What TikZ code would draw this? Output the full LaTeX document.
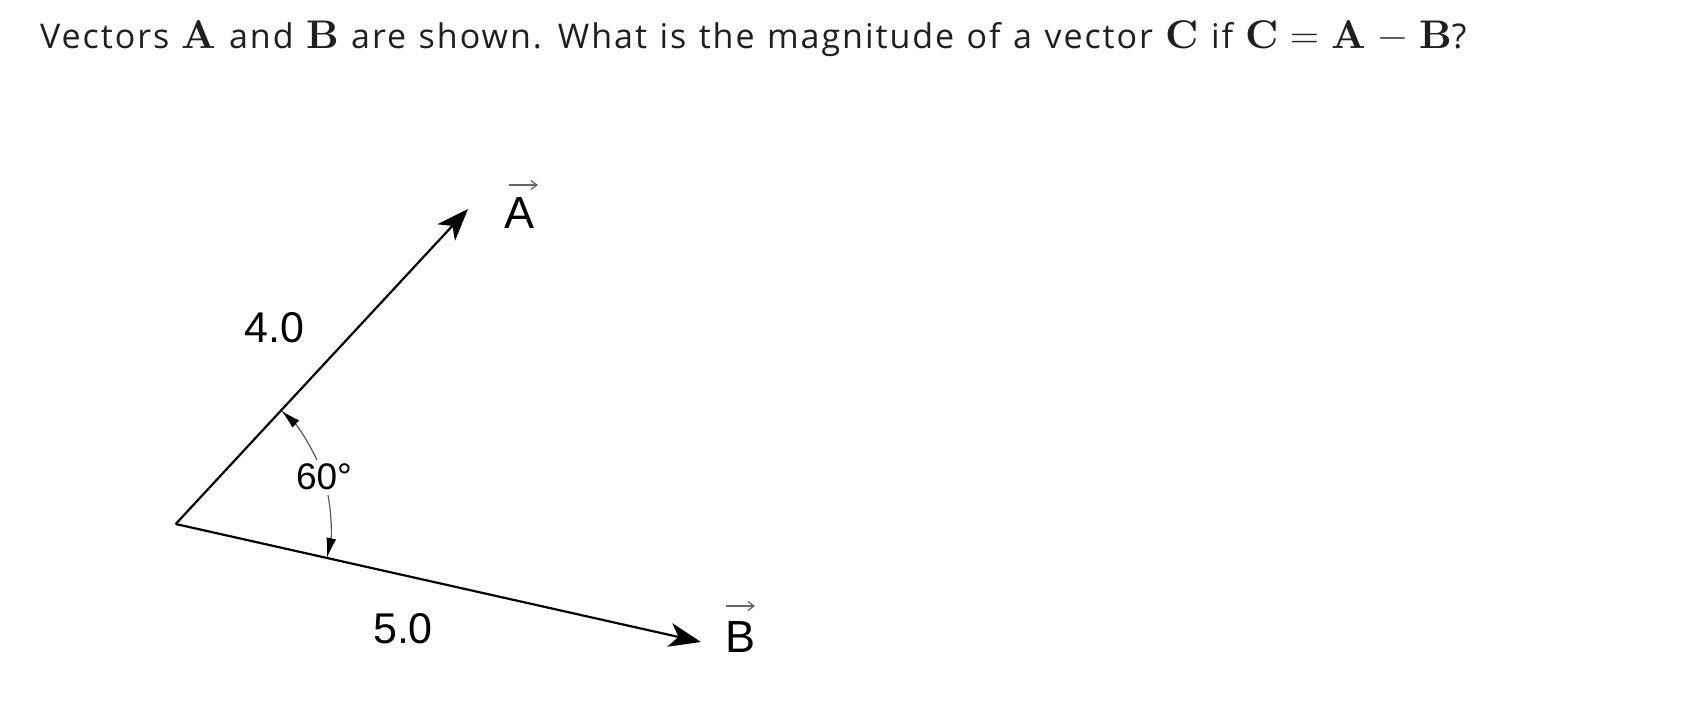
\documentclass[tikz,border=0pt]{standalone}
\usepackage{fontspec}
\setmainfont{Liberation Sans}
\newfontfamily\titlefont{Open Sans}[LetterSpace=5.8,WordSpace=1.15]
\newfontfamily\lmrfont{Latin Modern Roman}
\newfontfamily\lmrbold{lmroman10-bold}[Extension=.otf]
\usetikzlibrary{arrows.meta,calc}
\definecolor{titlegray}{HTML}{1F1F1F}
\newcommand\mbv[1]{{\lmrbold\fontsize{40}{40}\selectfont #1}}
\newcommand\mop[1]{{\lmrfont\fontsize{40}{40}\selectfont\hspace{0.3em}#1\hspace{0.3em}}}
\begin{document}
\begin{tikzpicture}[x=1pt,y=1pt,
  vecline/.style={line width=2.2pt, -{Stealth[length=32pt,width=24pt,inset=9pt]}},
  anglearc/.style={line width=1.2pt, draw=black!65, -{Latex[length=20pt,width=10pt,fill=black,color=black]}},
  numlabel/.style={inner sep=0pt, font=\fontsize{43}{43}\selectfont},
  veclabel/.style={inner sep=0pt, font=\fontsize{45}{45}\selectfont},
  anglelabel/.style={inner sep=0pt, font=\fontsize{37}{37}\selectfont},
  overarrow/.style={line width=1.3pt, draw=black!60, -{Straight Barb[length=6pt,width=9pt]}},
  titletext/.style={inner sep=0pt, anchor=base west, text=titlegray, font=\titlefont\fontsize{34}{40}\selectfont}
]
\fill[white] (0,0) rectangle (1696,726);
\useasboundingbox (0,0) rectangle (1696,726);

\node[titletext] (title) at (40,677) {Vectors \mbv{A} and \mbv{B} are shown. What is the magnitude of a vector \mbv{C} if \mbv{C}\mop{=}\mbv{A}\mop{−}\mbv{B}?};

\coordinate (O) at (175.7,202);
\coordinate (Atip) at (468,517);
\coordinate (Btip) at (701,84);

\draw[vecline] (O) -- (Atip);
\draw[vecline] (O) -- (Btip);

\draw[anglearc] ($(O)+(24.4:155)$) arc[start angle=24.4, end angle=47.15, radius=155];
\draw[anglearc] ($(O)+(10.7:155)$) arc[start angle=10.7, end angle=-12.66, radius=155];

\node[anglelabel] (ang) at (324,249) {60°};
\node[numlabel] (lenA) at (274.5,398) {4.0};
\node[numlabel] (lenB) at (403,97) {5.0};

\node[veclabel] (labA) at (519,513) {A};
\node[veclabel] (labB) at (740,89) {B};
\coordinate (aS) at (509,541);
\coordinate (aE) at (538,541);
\coordinate (bS) at (726,120);
\coordinate (bE) at (755,120);
\draw[overarrow] (aS) -- (aE);
\draw[overarrow] (bS) -- (bE);
\end{tikzpicture}
\end{document}
